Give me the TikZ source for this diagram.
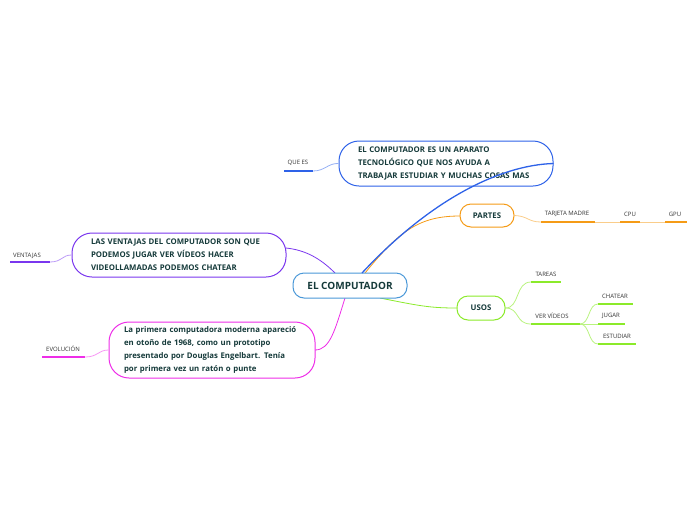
\documentclass[tikz,border=0pt]{standalone}
\usepackage{fontspec}
\setmainfont{Open Sans}
\begin{document}
\begin{tikzpicture}[x=1pt,y=-1pt,
  box/.style={draw,line width=1pt,rounded corners=11pt,fill=white,inner sep=0pt,font=\bfseries\fontsize{7.8}{13}\selectfont,text=txt},
  big/.style={box,rounded corners=20pt,align=left,text width=176pt},
  lab/.style={font=\fontsize{6}{7}\selectfont,text=black!80,inner sep=1pt},
  ul/.style={line width=1.5pt},
  con/.style={line width=0.8pt}]
\definecolor{txt}{HTML}{153A3A}
\definecolor{cblue}{HTML}{2E62E8}
\definecolor{corange}{HTML}{F59B16}
\definecolor{cgreen}{HTML}{8BEA2A}
\definecolor{cpurple}{HTML}{7A36EE}
\definecolor{cmag}{HTML}{EE2EE8}
\definecolor{ccen}{HTML}{4A98D8}
\useasboundingbox (0,0) rectangle (696,520);
% connectors from centre
\draw[con,corange] (365,273) .. controls (400,230) and (420,216) .. (460,216);
\draw[con,cgreen] (380,298) .. controls (420,306) and (430,308) .. (457,308);
\draw[con,cpurple] (335,273) .. controls (320,258) and (305,250) .. (286,248);
\draw[con,cmag] (345,298) .. controls (335,330) and (330,350) .. (315,350);
% boxes
\node[box,draw=ccen,minimum width=114pt,minimum height=25pt,font=\bfseries\fontsize{10}{12}\selectfont] (cen) at (350,285.5) {EL COMPUTADOR};
\node[big,draw=cblue,minimum width=214pt,minimum height=45pt] (que) at (446,163.5) {EL COMPUTADOR ES UN APARATO\\TECNOLÓGICO QUE NOS AYUDA A\\TRABAJAR ESTUDIAR Y MUCHAS COSAS MAS};
\node[box,draw=corange,minimum width=54pt,minimum height=23pt] (par) at (487,215.5) {PARTES};
\node[box,draw=cgreen,minimum width=48pt,minimum height=24pt] (usos) at (481,308) {USOS};
\node[big,draw=cpurple,minimum width=214pt,minimum height=44pt] (ven) at (179,255) {LAS VENTAJAS DEL COMPUTADOR SON QUE\\PODEMOS JUGAR VER VÍDEOS HACER\\VIDEOLLAMADAS PODEMOS CHATEAR};
\node[big,draw=cmag,minimum width=206pt,minimum height=56pt] (evo) at (212,350) {La primera computadora moderna apareció\\en otoño de 1968, como un prototipo\\presentado por Douglas Engelbart. Tenía\\por primera vez un ratón o punte};
\draw[con,cblue,line width=1.3pt] (362,273) .. controls (430,200) and (500,165) .. (que.east);
% labels
\node[lab] (lq) at (298,163) {QUE ES};
\draw[ul,cblue] (284,171) coordinate (lqa) -- (313,171) coordinate (lqb);
\draw[con,cblue!50] (lqb) .. controls (325,171) and (328,163) .. (que.west);
\node[lab] (lv) at (27,256) {VENTAJAS};
\draw[ul,cpurple] (10,262) -- (50,262) coordinate (lvb);
\draw[con,cpurple!50] (lvb) .. controls (62,262) and (62,255) .. (ven.west);
\node[lab] (le) at (63,349) {EVOLUCIÓN};
\draw[ul,cmag] (42,357) -- (85,357) coordinate (leb);
\draw[con,cmag!50] (leb) .. controls (98,357) and (98,350) .. (evo.west);
% partes
\node[lab] (tm) at (567,214) {TARJETA MADRE};
\draw[ul,corange] (541,222) coordinate (tma) -- (595,222) coordinate (tmb);
\draw[con,corange!50] (par.east) .. controls (528,216) and (528,222) .. (tma);
\node[lab] (cpu) at (630,214) {CPU};
\draw[ul,corange] (620,222) coordinate (cpa) -- (640,222) coordinate (cpb);
\draw[con,corange!50] (tmb) -- (cpa);
\node[lab] (gpu) at (675,214) {GPU};
\draw[ul,corange] (665,222) coordinate (gpa) -- (687,222);
\draw[con,corange!50] (cpb) -- (gpa);
% usos
\node[lab] (ta) at (546,274) {TAREAS};
\draw[ul,cgreen] (531,282) coordinate (taa) -- (561,282);
\node[lab] (vv) at (552,316) {VER VÍDEOS};
\draw[ul,cgreen] (531,324) coordinate (vva) -- (580,324) coordinate (vvb);
\draw[con,cgreen!60] (usos.east) .. controls (520,308) and (515,282) .. (taa);
\draw[con,cgreen!60] (usos.east) .. controls (520,308) and (515,324) .. (vva);
\node[lab] (ch) at (615,296) {CHATEAR};
\draw[ul,cgreen] (598,304) coordinate (cha) -- (633,304);
\node[lab] (ju) at (611,316) {JUGAR};
\draw[ul,cgreen] (598,324) coordinate (jua) -- (625,324);
\node[lab] (es) at (617,336) {ESTUDIAR};
\draw[ul,cgreen] (598,344) coordinate (esa) -- (636,344);
\draw[con,cgreen!60] (vvb) .. controls (590,324) and (588,304) .. (cha);
\draw[con,cgreen!60] (vvb) -- (jua);
\draw[con,cgreen!60] (vvb) .. controls (590,324) and (588,344) .. (esa);
\end{tikzpicture}
\end{document}
